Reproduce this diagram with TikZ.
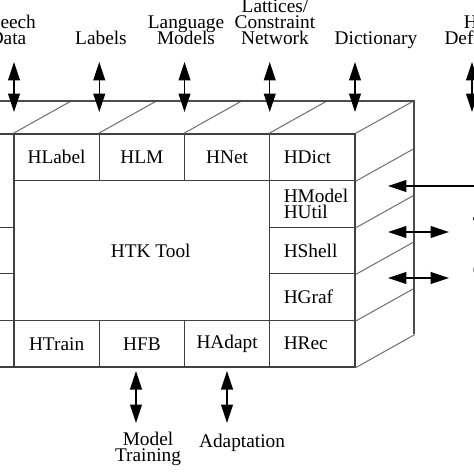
\documentclass[tikz,border=0pt]{standalone}
\usepackage{fontspec}
\setmainfont{Liberation Serif}
\usetikzlibrary{arrows.meta}
\newcommand{\htkfont}{\fontsize{11pt}{9.1pt}\selectfont\lineskiplimit=-20pt\relax}

\begin{document}
\begin{tikzpicture}[x=0.02cm,y=-0.02cm,>={Triangle[width=0.24cm,length=0.37cm]},
		font=\htkfont]
		\tikzstyle{cell}=[rectangle,draw=black!75,line width=0.75pt,
			minimum width=1.705cm,minimum height=0.932cm,inner sep=0pt];
		\tikzstyle{rcell}=[cell,text width=1.145cm,inner xsep=0.28cm,align=left];
		\tikzstyle{side}=[draw=black!55,line width=0.6pt];
		\tikzstyle{io}=[align=center,inner sep=0pt,text depth=0pt,anchor=south];
		\tikzstyle{link}=[<->,line width=0.6pt];
		\useasboundingbox(0,0)rectangle(474,474);

		\node[cell,minimum height=1.864cm](10)at(-28.6,180.6){};
		\node[cell](30)at(-28.6,250.5){};
		\node[cell](40)at(-28.6,297.1){};
		\node[cell](50)at(-28.6,343.7){};

		\node[cell](11)at(56.6,157.3){HLabel};
		\node[cell](12)at(141.9,157.3){HLM};
		\node[cell](13)at(227.1,157.3){HNet};
		\node[rcell](14)at(312.4,157.3){HDict};
		\node[rcell](24)at(312.4,203.9){HModel\\HUtil};
		\node[rcell](34)at(312.4,250.5){HShell};
		\node[rcell](44)at(312.4,297.1){HGraf};
		\node[cell,minimum width=5.115cm,minimum height=2.796cm](tool)at(141.9,250.5){\hspace{10pt}HTK Tool};
		\node[cell](51)at(56.6,343.7){HTrain};
		\node[cell](52)at(141.9,343.7){HFB};
		\node[cell](53)at(227.1,343.7){HAdapt};
		\node[rcell](54)at(312.4,343.7){HRec};

		\draw[side](10.north west)--+(59,-33)(11.north west)--+(59,-33)(12.north west)--+(59,-33)
			(13.north west)--+(59,-33)(14.north west)--+(59,-33)(14.north east)--+(59,-33);
		\draw[side](14.south east)--+(59,-33)(24.south east)--+(59,-33)(34.south east)--+(59,-33)
			(44.south east)--+(59,-33)(54.south east)--+(59,-33);
		\draw[draw=black!70,line width=0.7pt](-12.25,101)--(414,101)--(414,334);

		\node[io](sd)at(8,45){Speech\\Data};
		\coordinate(sd1)at(14,62);\coordinate(sd2)at(14,112);
		\draw[link](sd1)--(sd2);
		\node[io](lb)at(101,45){Labels};
		\coordinate(lb1)at(99.25,62);\coordinate(lb2)at(99.25,112);
		\draw[link](lb1)--(lb2);
		\node[io](lm)at(186,45){Language\\Models};
		\coordinate(lm1)at(184.5,62);\coordinate(lm2)at(184.5,112);
		\draw[link](lm1)--(lm2);
		\node[io](net)at(275,45){Lattices/\\Constraint\\Network};
		\coordinate(net1)at(269.75,62);\coordinate(net2)at(269.75,112);
		\draw[link](net1)--(net2);
		\node[io](dct)at(376,45){Dictionary};
		\coordinate(dct1)at(355,62);\coordinate(dct2)at(355,112);
		\draw[link](dct1)--(dct2);
		\node[io](hmm)at(488,45){HMM\\Definitions};
		\coordinate(hmm1)at(472,62);\coordinate(hmm2)at(472,112);
		\draw[link](hmm1)--(hmm2);

		\coordinate(md1)at(388,186);\coordinate(md2)at(480,186);
		\draw[->,line width=0.6pt](md2)--(md1);
		\node[anchor=west,align=center,inner sep=0pt](term)at(472.5,232){Terminal\\I/O};
		\coordinate(term1)at(388,232);\coordinate(term2)at(449,232);
		\draw[link](term1)--(term2);
		\node[anchor=west,align=center,inner sep=0pt](graf)at(472.5,278){Graphical\\I/O};
		\coordinate(graf1)at(388,278);\coordinate(graf2)at(449,278);
		\draw[link](graf1)--(graf2);

		\node[io](mt)at(148,462){Model\\Training};
		\coordinate(mt1)at(136,371);\coordinate(mt2)at(136,423);
		\draw[link](mt1)--(mt2);
		\node[io](ad)at(242,448){Adaptation};
		\coordinate(ad1)at(227,371);\coordinate(ad2)at(227,423);
		\draw[link](ad1)--(ad2);
	\end{tikzpicture}
\end{document}
